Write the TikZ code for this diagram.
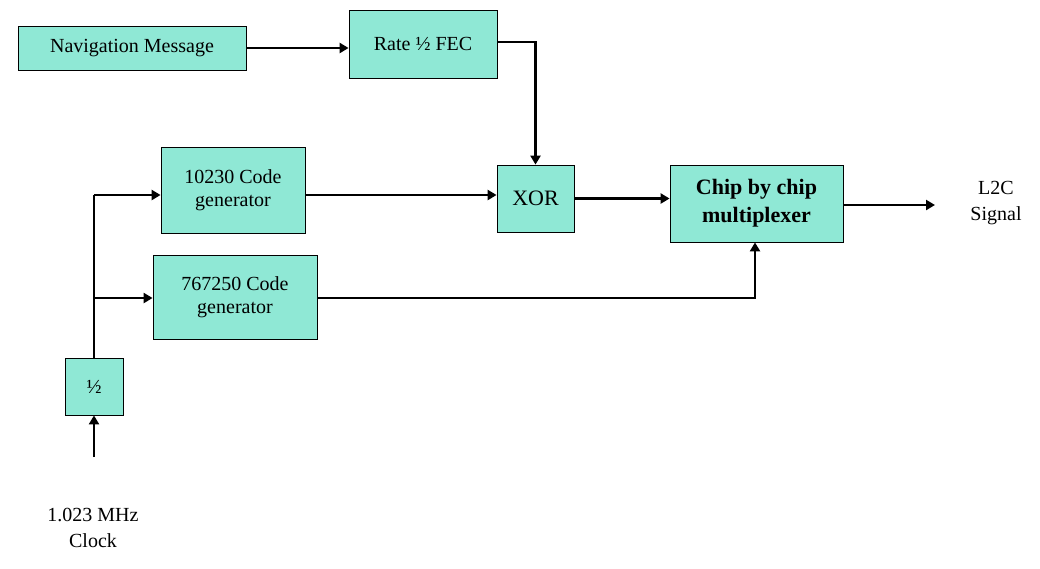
\documentclass[tikz,border=0pt]{standalone}
\usepackage{fontspec}
\setmainfont{Liberation Serif}
\usetikzlibrary{arrows.meta}
\definecolor{boxc}{HTML}{8FE8D5}
\begin{document}
\begin{tikzpicture}[x=1pt,y=-1pt,
  box/.style={draw=black,fill=boxc,line width=0.8pt,inner sep=0pt,align=center,font=\fontsize{20}{23}\selectfont},
  arr/.style={line width=2.6pt,-{Triangle[length=9pt,width=10pt]}},
  ln/.style={line width=2.6pt}]
\useasboundingbox (0,0) rectangle (1040,568);
\node[box,minimum width=228pt,minimum height=44pt] (nav) at (132,48) {Navigation Message};
\node[box,minimum width=148pt,minimum height=68pt] (fec) at (423,44) {Rate ½ FEC};
\node[box,minimum width=144pt,minimum height=86pt] (c1) at (233,190) {10230 Code\\generator};
\node[box,minimum width=77pt,minimum height=67pt,font=\fontsize{22}{25}\selectfont] (xor) at (535.5,198.5) {XOR};
\node[box,minimum width=173pt,minimum height=77pt,font=\bfseries\fontsize{22}{28}\selectfont] (mux) at (756.5,203.5) {Chip by chip\\multiplexer};
\node[box,minimum width=164pt,minimum height=84pt] (c2) at (235,297) {767250 Code\\generator};
\node[box,minimum width=58pt,minimum height=57pt] (half) at (94,386.5) {½};
\node[align=center,font=\fontsize{20}{26}\selectfont] (l2c) at (996,203) {L2C\\Signal};
\node[align=center,font=\fontsize{20}{26}\selectfont] (clk) at (93,528) {1.023 MHz\\Clock};
\coordinate (out) at (935,205);
\coordinate (cin) at (94,457);
\coordinate (b1) at (94,195);
\coordinate (b2) at (94,298);
\draw[arr] (nav.east) -- (fec.west |- nav.east);
\draw[arr] (fec.east |- 0,42) -| (xor.north);
\draw[arr] (c1.east |- 0,195) -- (xor.west |- 0,195);
\draw[arr] (xor.east) -- (mux.west |- xor.east);
\draw[arr] (mux.east |- out) -- (out);
\draw[arr] (c2.east |- 0,298) -| (mux.south -| 755,0);
\draw[ln] (half.north) -- (b1);
\draw[arr] (b1) -- (c1.west |- b1);
\draw[arr] (b2) -- (c2.west |- b2);
\draw[arr] (cin) -- (half.south);
\end{tikzpicture}
\end{document}
